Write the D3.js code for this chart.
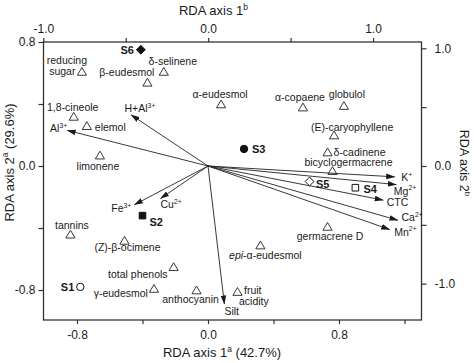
<!DOCTYPE html>
<html>
<head>
<meta charset="utf-8">
<script src="https://cdn.jsdelivr.net/npm/d3@7"></script>
<style>
    body { margin: 0; background: #fff; }
    svg text { font-family: "Liberation Sans", Arial, sans-serif; fill: #1a1a1a; }
</style>
</head>
<body>
<svg id="chart" width="474" height="363"></svg>
<script>
// species scores (triangles), RDA axis 1a / 2a
const species_names = ['reducing\nsugar', 'β-eudesmol', 'δ-selinene', 'α-eudesmol', '1,8-cineole', 'elemol',
    'α-copaene', 'globulol', 'limonene', 'tannins', '(Z)-β-ocimene', '(E)-caryophyllene', 'δ-cadinene',
    'bicyclogermacrene', 'germacrene D', '*epi*-α-eudesmol', 'total phenols', 'γ-eudesmol', 'anthocyanin', 'fruit\nacidity'];
const species_x = [-0.77, -0.37, -0.27, 0.08, -0.82, -0.74, 0.58, 0.83, -0.66, -0.84, -0.51, 0.77, 0.73, 0.76, 0.73, 0.32, -0.21, -0.33, -0.07, 0.18];
const species_y = [0.61, 0.54, 0.61, 0.40, 0.32, 0.26, 0.38, 0.39, 0.07, -0.44, -0.48, 0.20, 0.09, -0.03, -0.39, -0.51, -0.65, -0.79, -0.80, -0.81];

// sites
const site_names = ['S1', 'S2', 'S3', 'S4', 'S5', 'S6'];
const site_x = [-0.78, -0.40, 0.22, 0.90, 0.62, -0.41];
const site_y = [-0.78, -0.32, 0.11, -0.14, -0.10, 0.75];

// soil variables (arrows)
const env_names = ['H+Al^{3+}', 'Al^{3+}', 'Fe^{3+}', 'Cu^{2+}', 'Silt', 'K^{+}', 'Mg^{2+}', 'CTC', 'Ca^{2+}', 'Mn^{2+}'];
const env_x = [-0.47, -0.86, -0.45, -0.29, 0.10, 1.14, 1.15, 1.07, 1.16, 1.11];
const env_y = [0.33, 0.23, -0.25, -0.21, -0.89, -0.07, -0.12, -0.22, -0.35, -0.41];

// axis ticks
const ticks_bottom = [-0.8, -0.4, 0, 0.4, 0.8, 1.2];
const labels_bottom = [-0.8, 0, 0.8];
const ticks_left = [-0.8, -0.4, 0, 0.4, 0.8];
const labels_left = [-0.8, 0, 0.8];
const ticks_top = [-1, -0.5, 0, 0.5, 1];
const labels_top = [-1, 0, 1];
const ticks_right = [-1, -0.5, 0, 0.5, 1];
const labels_right = [-1, 0, 1];

// label placement: per line [dx, dy, anchor]
const species_label_pos = {
    'reducing\nsugar': [[-15, -7, 'middle'], [-6.5, 4, 'end']],
    'β-eudesmol': [[7, -6, 'end']],
    'δ-selinene': [[9, -6, 'middle']],
    'α-eudesmol': [[-1, -6, 'middle']],
    '1,8-cineole': [[-1, -5, 'middle']],
    'elemol': [[8, 5.5, 'start']],
    'α-copaene': [[-3, -6, 'middle']],
    'globulol': [[3, -8, 'middle']],
    'limonene': [[-2, 14.5, 'middle']],
    'tannins': [[1.5, -5, 'middle']],
    '(Z)-β-ocimene': [[3, 10.5, 'middle']],
    '(E)-caryophyllene': [[18, -4.5, 'middle']],
    'δ-cadinene': [[6, 4, 'start']],
    'bicyclogermacrene': [[16, -4.5, 'middle']],
    'germacrene D': [[2.5, 14, 'middle']],
    '*epi*-α-eudesmol': [[5, 14, 'middle']],
    'total phenols': [[-6, 11, 'end']],
    'γ-eudesmol': [[-6, 9, 'end']],
    'anthocyanin': [[-6, 13, 'middle']],
    'fruit\nacidity': [[6.5, 2.5, 'start'], [1.5, 13, 'start']]
};
const site_label_pos = {S1: [-6, 4, 'end'], S2: [7, 10.5, 'start'], S3: [8, 4, 'start'],
    S4: [8, 5, 'start'], S5: [6.5, 6, 'start'], S6: [-7, 4, 'end']};
const site_marker = {S1: ['circle', false], S2: ['square', true], S3: ['circle', true],
    S4: ['square', false], S5: ['diamond', false], S6: ['diamond', true]};
const env_label_pos = {'H+Al^{3+}': [-6.5, -3, 'start'], 'Al^{3+}': [0, 2, 'end'], 'Fe^{3+}': [-3, 7, 'end'],
    'Cu^{2+}': [0, 9.5, 'start'], 'Silt': [0, 11, 'start'], 'K^{+}': [6.5, 4, 'start'],
    'Mg^{2+}': [-2.5, 10, 'start'], 'CTC': [3.5, 6, 'start'], 'Ca^{2+}': [3.5, 1, 'start'], 'Mn^{2+}': [4.5, 6, 'start']};

let plot = {left: 43.5, right: 421.5, top: 42, bottom: 320};
let ink = '#1a1a1a';

let svg = d3.select('#chart');

let x = d3.scaleLinear().domain([-1.0046, 1.3038]).range([plot.left, plot.right]);
let y = d3.scaleLinear().domain([-0.9935, 0.8]).range([plot.bottom, plot.top]);
let x_top = d3.scaleLinear().domain([-0.9988, 1.2939]).range([plot.left, plot.right]);
let y_right = d3.scaleLinear().domain([-1.3089, 1.0536]).range([plot.bottom, plot.top]);

function fmt(labels) {
    return d => labels.some(l => Math.abs(l - d) < 1e-9) ? d.toFixed(1) : '';
}

// superscript ^{..}, italic *..*
function rich_text(sel, str, size) {
    let parts = str.split(/(\^\{[^}]*\}|\*[^*]*\*)/).filter(s => s.length);
    let raised = false;
    parts.forEach(function (p) {
        if (p.startsWith('^{')) {
            sel.append('tspan').attr('dy', -size * 0.4).attr('font-size', size * 0.65).text(p.slice(2, -1));
            raised = true;
        } else {
            let t = sel.append('tspan');
            if (raised) { t.attr('dy', size * 0.4); raised = false; }
            if (p.startsWith('*')) t.attr('font-style', 'italic').text(p.slice(1, -1));
            else t.text(p);
        }
    });
}

function style_axis(g) {
    g.select('.domain').remove();
    g.selectAll('line').attr('stroke', '#333').attr('stroke-width', 1.2);
    g.selectAll('text').attr('font-size', 12).attr('fill', ink)
        .style('font-family', '"Liberation Sans", Arial, sans-serif');
}

svg.append('g').attr('transform', 'translate(0,' + plot.bottom + ')')
    .call(d3.axisBottom(x).tickValues(ticks_bottom).tickFormat(fmt(labels_bottom)).tickSize(4).tickPadding(6))
    .call(style_axis);
svg.append('g').attr('transform', 'translate(' + plot.left + ',0)')
    .call(d3.axisLeft(y).tickValues(ticks_left).tickFormat(fmt(labels_left)).tickSize(5).tickPadding(3))
    .call(style_axis);
svg.append('g').attr('transform', 'translate(0,' + plot.top + ')')
    .call(d3.axisTop(x_top).tickValues(ticks_top).tickFormat(fmt(labels_top)).tickSize(4).tickPadding(5))
    .call(style_axis);
svg.append('g').attr('transform', 'translate(' + plot.right + ',0)')
    .call(d3.axisRight(y_right).tickValues(ticks_right).tickFormat(fmt(labels_right)).tickSize(5).tickPadding(8))
    .call(style_axis);

svg.append('rect')
    .attr('x', plot.left).attr('y', plot.top)
    .attr('width', plot.right - plot.left).attr('height', plot.bottom - plot.top)
    .attr('fill', 'none').attr('stroke', '#333').attr('stroke-width', 1.3);

// axis titles
rich_text(svg.append('text').attr('x', 213.5).attr('y', 15).attr('text-anchor', 'middle').attr('font-size', 13), 'RDA axis 1^{b}', 13);
rich_text(svg.append('text').attr('x', 222).attr('y', 357).attr('text-anchor', 'middle').attr('font-size', 13), 'RDA axis 1^{a} (42.7%)', 13);
rich_text(svg.append('text').attr('transform', 'translate(13.5,162.5) rotate(-90)').attr('text-anchor', 'middle').attr('font-size', 13), 'RDA axis 2^{a} (29.6%)', 13);
rich_text(svg.append('text').attr('transform', 'translate(460,163) rotate(90)').attr('text-anchor', 'middle').attr('font-size', 12.5), 'RDA axis 2^{b}', 12.5);

// arrows
svg.append('defs').append('marker')
    .attr('id', 'head').attr('markerUnits', 'userSpaceOnUse')
    .attr('markerWidth', 9).attr('markerHeight', 6).attr('refX', 8.5).attr('refY', 3).attr('orient', 'auto')
    .append('path').attr('d', 'M0,0.2 L9,3 L0,5.8 Z').attr('fill', ink);

let env = env_names.map((n, i) => ({name: n, x: env_x[i], y: env_y[i]}));
svg.append('g').selectAll('line').data(env).join('line')
    .attr('x1', x(0)).attr('y1', y(0))
    .attr('x2', d => x(d.x)).attr('y2', d => y(d.y))
    .attr('stroke', '#222').attr('stroke-width', 0.9)
    .attr('marker-end', 'url(#head)');

env.forEach(function (d) {
    let p = env_label_pos[d.name];
    let t = svg.append('text').attr('x', x(d.x) + p[0]).attr('y', y(d.y) + p[1])
        .attr('text-anchor', p[2]).attr('font-size', 10.5);
    rich_text(t, d.name, 10.5);
});

// species
let species = species_names.map((n, i) => ({name: n, x: species_x[i], y: species_y[i]}));
svg.append('g').selectAll('path').data(species).join('path')
    .attr('transform', d => 'translate(' + x(d.x) + ',' + y(d.y) + ')')
    .attr('d', 'M0,-4 L4.6,3.8 L-4.6,3.8 Z')
    .attr('fill', 'none').attr('stroke', '#222').attr('stroke-width', 0.9);

species.forEach(function (d) {
    d.name.split('\n').forEach(function (line, k) {
        let p = species_label_pos[d.name][k];
        let t = svg.append('text').attr('x', x(d.x) + p[0]).attr('y', y(d.y) + p[1])
            .attr('text-anchor', p[2]).attr('font-size', 10.5);
        rich_text(t, line, 10.5);
    });
});

// sites
let sites = site_names.map((n, i) => ({name: n, x: site_x[i], y: site_y[i]}));
let shape_path = {
    circle: 'M3.7,0 A3.7,3.7 0 1,1 -3.7,0 A3.7,3.7 0 1,1 3.7,0 Z',
    square: 'M-3.3,-3.3 H3.3 V3.3 H-3.3 Z',
    diamond: 'M0,-4.4 L4.4,0 L0,4.4 L-4.4,0 Z'
};
svg.append('g').selectAll('path').data(sites).join('path')
    .attr('transform', d => 'translate(' + x(d.x) + ',' + y(d.y) + ')')
    .attr('d', d => shape_path[site_marker[d.name][0]])
    .attr('fill', d => site_marker[d.name][1] ? '#111' : '#fff')
    .attr('stroke', '#111').attr('stroke-width', 1);

svg.append('g').selectAll('text').data(sites).join('text')
    .attr('x', d => x(d.x) + site_label_pos[d.name][0])
    .attr('y', d => y(d.y) + site_label_pos[d.name][1])
    .attr('text-anchor', d => site_label_pos[d.name][2])
    .attr('font-size', 11).attr('font-weight', 'bold')
    .text(d => d.name);
</script>
</body>
</html>
